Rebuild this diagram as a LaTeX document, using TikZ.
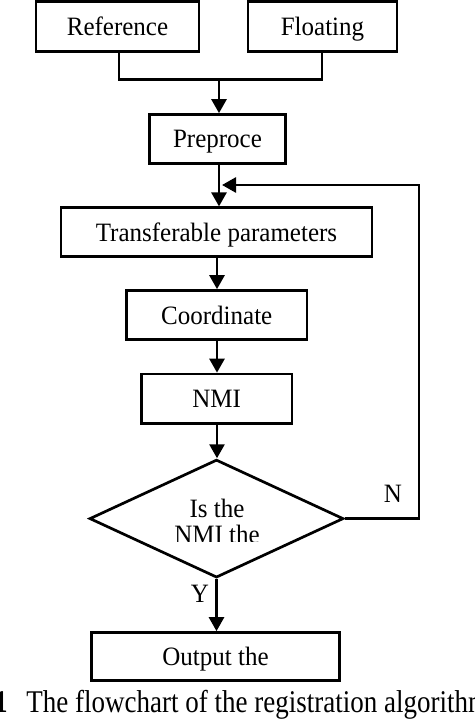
\documentclass[tikz,border=0pt]{standalone}
\usepackage{fontspec}
\setmainfont{Liberation Serif}
\usetikzlibrary{arrows.meta,shapes.geometric,calc}
\newcommand{\tallt}[1]{\scalebox{1}[1.06]{#1}}
\begin{document}
\begin{tikzpicture}[x=1pt,y=-1pt,
  line width=2.7pt,
  box/.style={draw,rectangle,inner sep=0pt,text height=20pt,text depth=2pt,font=\fontsize{25}{28}\selectfont},
  arr/.style={-{Triangle[length=14pt,width=15pt]}},
  lbl/.style={font=\fontsize{25}{28}\selectfont,inner sep=0pt}]
\useasboundingbox (0,0) rectangle (474,719);
\node[box,minimum width=163pt,minimum height=50pt] (ref) at (117.5,26.5) {\tallt{Reference}};
\node[box,minimum width=149pt,minimum height=50pt] (flo) at (322.5,26.5) {\tallt{Floating}};
\node[box,minimum width=135.5pt,minimum height=49pt] (pre) at (217.5,139) {\tallt{Preproce}};
\node[box,minimum width=311pt,minimum height=48.5pt] (tp) at (216.5,232) {\tallt{Transferable parameters}};
\node[box,minimum width=180.5pt,minimum height=49pt] (co) at (216.75,315) {\tallt{Coordinate}};
\node[box,minimum width=150.5pt,minimum height=49.5pt] (nmi) at (216.75,398.75) {\tallt{NMI}};
\node[draw,diamond,inner sep=0pt,minimum width=254pt,minimum height=118pt] (dec) at (216.5,518.6) {};
\begin{scope}
\clip (0,0) rectangle (474,541.5);
\node[lbl,anchor=base] (dect1) at (217,517.3) {\tallt{Is the}};
\node[lbl,anchor=base] (dect2) at (217,543.5) {\tallt{NMI the}};
\end{scope}
\node[box,minimum width=248pt,minimum height=48pt] (out) at (215.5,656.5) {\tallt{Output the}};
\node[lbl] (nl) at (393,493.5) {\tallt{N}};
\node[lbl] (yl) at (200,593.5) {\tallt{Y}};
\coordinate (mid) at (219,79.5);
\coordinate (loopr) at (419,185);
\coordinate (loopin) at (222,185);
\draw (ref.south -| 119,0) |- (mid) -| (flo.south -| 322,0);
\draw[arr] (mid) -- (mid |- pre.north);
\draw[arr] (mid |- pre.south) -- (mid |- tp.north);
\draw[arr] (tp.south -| 217,0) -- (co.north -| 217,0);
\draw[arr] (co.south -| 217,0) -- (nmi.north -| 217,0);
\draw[arr] (nmi.south -| 217,0) -- (dec.north -| 217,0);
\draw[arr] (dec.south) -- (dec.south |- out.north);
\draw[arr] (dec.east) -| (loopr) -- (loopin);
\node[anchor=base east,inner sep=0pt,font=\fontsize{27}{30}\selectfont\bfseries] (fig) at (9,712.5) {\scalebox{1}[1.17]{1}};
\node[anchor=base west,inner sep=0pt,font=\fontsize{27}{30}\selectfont] (cap) at (25,712.5) {\scalebox{1}[1.17]{The flowchart of the registration algorithm}};
\end{tikzpicture}
\end{document}
